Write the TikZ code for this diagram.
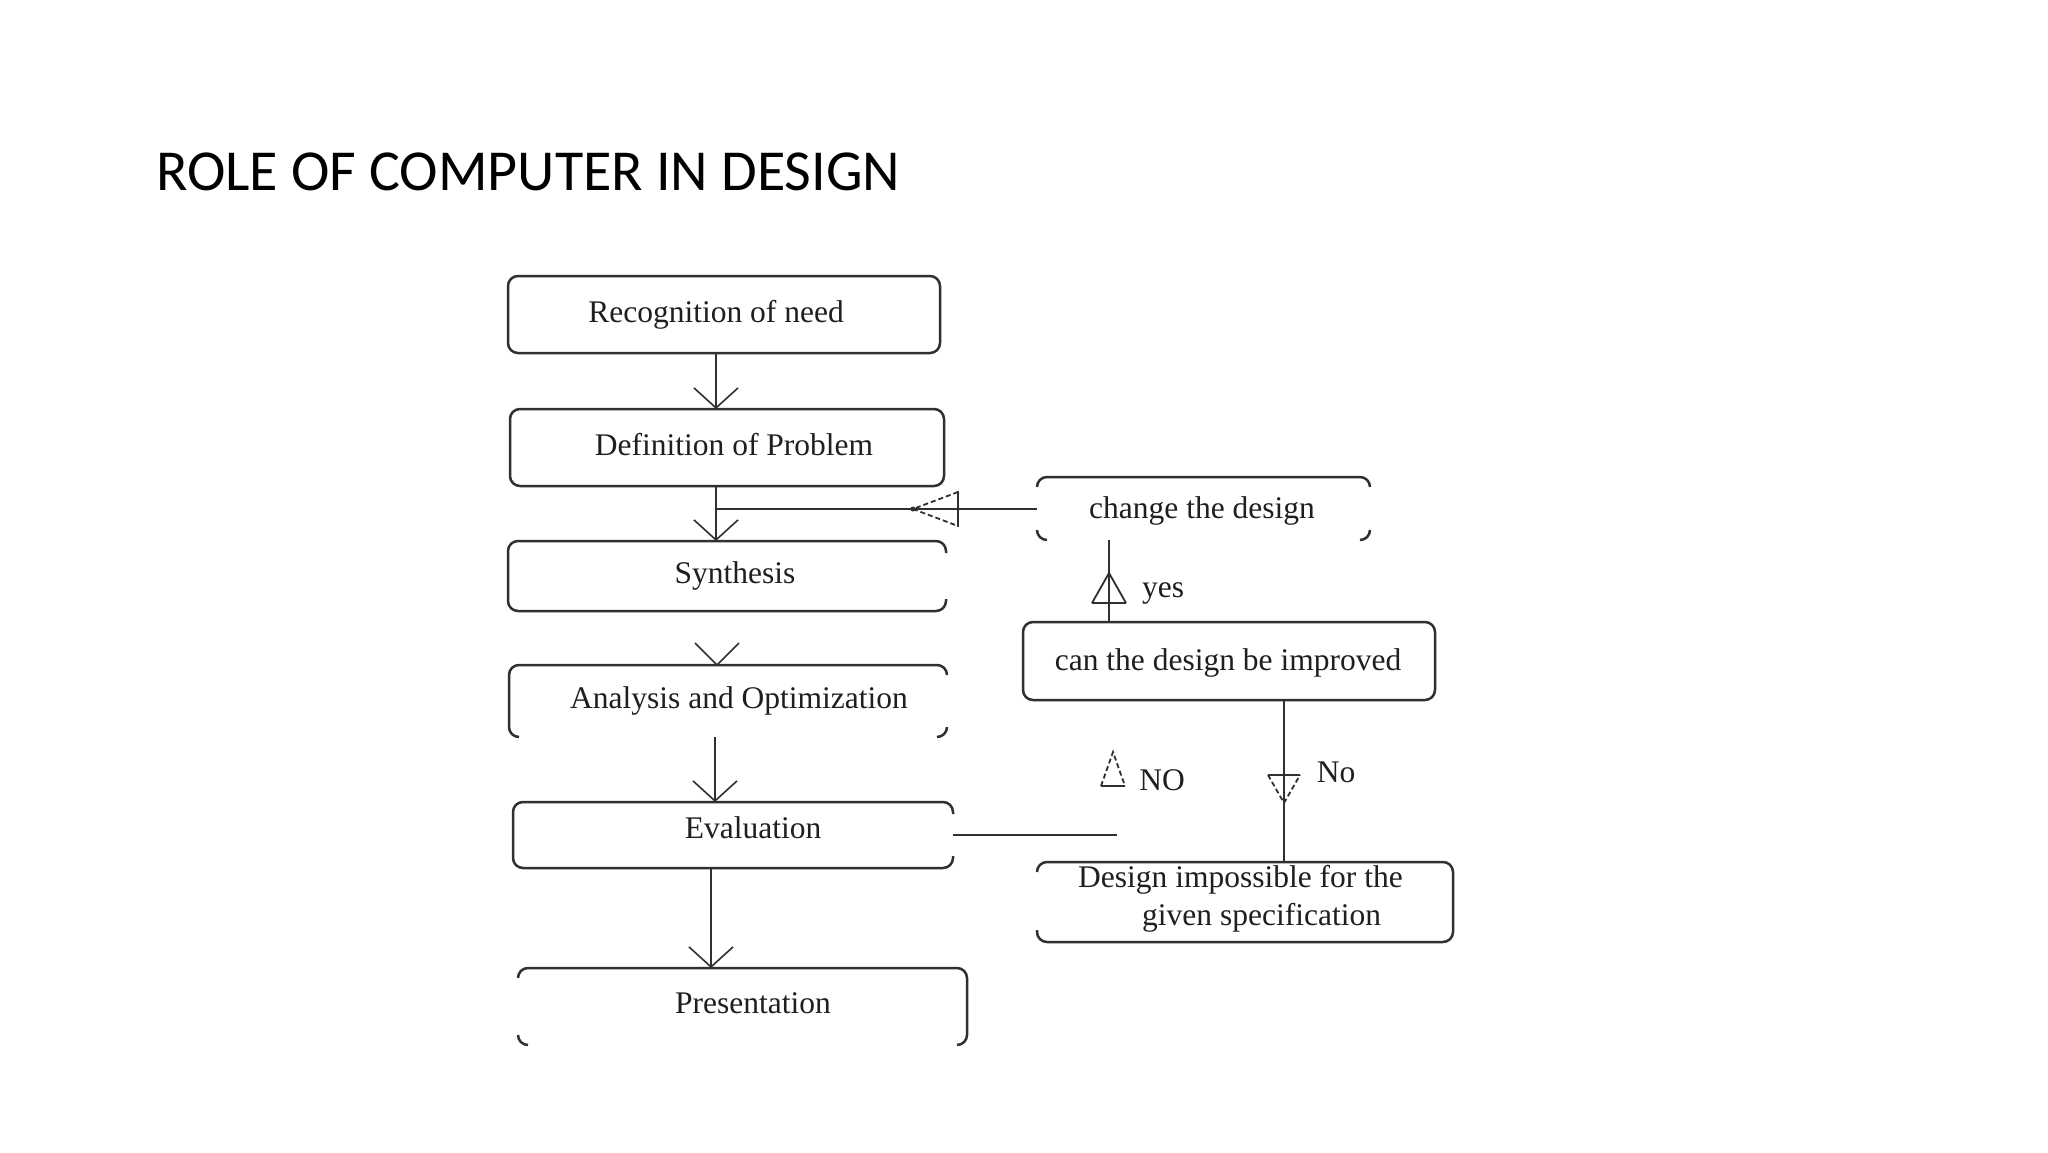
\documentclass[tikz,border=0pt]{standalone}
\usepackage{fontspec}
\setmainfont{Liberation Serif}
\newfontfamily\titlefont{Carlito}
\usetikzlibrary{arrows.meta,calc}
\definecolor{ink}{HTML}{303030}
\begin{document}
\begin{tikzpicture}[x=1pt,y=-1pt,
  outline/.style={draw=ink, line width=2.5pt, rounded corners=10pt},
  boxshape/.style={rectangle, inner sep=0pt, outer sep=0pt},
  fullbox/.style={boxshape, draw=ink, line width=2.5pt, rounded corners=10pt},
  txt/.style={font=\fontsize{31.5}{38}\selectfont, text=black!88, inner sep=0pt, anchor=base},
  conn/.style={draw=ink, line width=2pt},
  vhead/.style={-{Straight Barb[length=20pt,width=44pt,line width=1.6pt]}},
  trid/.style={draw=ink, line width=1.8pt, dash pattern=on 5pt off 3pt},
  tris/.style={draw=ink, line width=1.8pt}]
\fill[white] (0,0) rectangle (2048,1152);
\useasboundingbox (0,0) rectangle (2048,1152);

% title
\node[font=\titlefont\fontsize{58}{70}\selectfont, anchor=base west, inner sep=0pt] (title) at (156,190) {ROLE OF COMPUTER IN DESIGN};

% box shapes
\node[fullbox, minimum width=432pt, minimum height=77pt] (rec) at (724,314.5) {};
\node[fullbox, minimum width=434pt, minimum height=77pt] (def) at (727,447.5) {};
\node[boxshape, minimum width=438pt, minimum height=70pt] (syn) at (727,576) {};
\node[boxshape, minimum width=438pt, minimum height=72pt] (ana) at (728,701) {};
\node[boxshape, minimum width=440pt, minimum height=66pt] (eva) at (733,835) {};
\node[boxshape, minimum width=449pt, minimum height=77pt] (pre) at (742.5,1006.5) {};
\node[boxshape, minimum width=333pt, minimum height=63pt] (chg) at (1203.5,508.5) {};
\node[fullbox, minimum width=412pt, minimum height=78pt] (can) at (1229,661) {};
\node[boxshape, minimum width=416pt, minimum height=80pt] (imp) at (1245,902) {};

% partial outlines
\draw[outline] ($(syn.north east)+(0,12)$) -- (syn.north east) -- (syn.north west) -- (syn.south west) -- (syn.south east) -- ($(syn.south east)+(0,-12)$);
\draw[outline] ($(ana.north east)+(0,10)$) -- (ana.north east) -- (ana.north west) -- (ana.south west) -- ($(ana.south west)+(10,0)$);
\draw[outline] ($(ana.south east)+(0,-10)$) -- (ana.south east) -- ($(ana.south east)+(-10,0)$);
\draw[outline] ($(eva.north east)+(0,12)$) -- (eva.north east) -- (eva.north west) -- (eva.south west) -- (eva.south east) -- ($(eva.south east)+(0,-12)$);
\draw[outline] ($(pre.north west)+(0,10)$) -- (pre.north west) -- (pre.north east) -- (pre.south east) -- ($(pre.south east)+(-10,0)$);
\draw[outline] ($(pre.south west)+(0,-10)$) -- (pre.south west) -- ($(pre.south west)+(10,0)$);
\draw[outline] ($(chg.north west)+(0,10)$) -- (chg.north west) -- (chg.north east) -- ($(chg.north east)+(0,10)$);
\draw[outline] ($(chg.south west)+(0,-10)$) -- (chg.south west) -- ($(chg.south west)+(10,0)$);
\draw[outline] ($(chg.south east)+(0,-10)$) -- (chg.south east) -- ($(chg.south east)+(-10,0)$);
\draw[outline] ($(imp.north west)+(0,10)$) -- (imp.north west) -- (imp.north east) -- (imp.south east) -- (imp.south west) -- ($(imp.south west)+(0,-12)$);

% texts
\node[txt] (recT) at (716,322) {Recognition of need};
\node[txt] (defT) at (734,455) {Definition of Problem};
\node[txt] (synT) at (735,583) {Synthesis};
\node[txt] (anaT) at (739,708) {Analysis and Optimization};
\node[txt] (evaT) at (753,838) {Evaluation};
\node[txt] (preT) at (753,1013) {Presentation};
\node[txt] (chgT) at (1202,518) {change the design};
\node[txt] (canT) at (1228,670) {can the design be improved};
\node[txt, anchor=base west, align=left] (impT) at (1078,925) {Design impossible for the\\\hspace*{64pt}given specification};
\node[txt] (yesT) at (1163,597) {yes};
\node[txt] (NOT) at (1162,790) {NO};
\node[txt] (NoT) at (1336,782) {No};

% connector x positions
\coordinate (xa) at (716,0);
\coordinate (xb) at (717,0);
\coordinate (xc) at (715,0);
\coordinate (xd) at (711,0);
\coordinate (xy) at (1109,0);
\coordinate (xn) at (1284,0);
\coordinate (noEnd) at (1117,835);

% main chain
\draw[conn,vhead] (rec.south -| xa) -- (def.north -| xa);
\draw[conn,vhead] (def.south -| xa) -- (syn.north -| xa);
\coordinate (saTip) at (ana.north -| xb);
\draw[draw=ink, line width=1.6pt] ($(saTip)+(-22,-22)$) -- (saTip) -- ($(saTip)+(22,-22)$);
\draw[conn,vhead] (ana.south -| xc) -- (eva.north -| xc);
\draw[conn,vhead] (eva.south -| xd) -- (pre.north -| xd);

% feedback from change the design
\draw[conn] (chg.west) -- (chg.west -| xa);
\coordinate (fbTip) at (913,509);
\draw[trid] ($(fbTip)+(45,-17)$) -- (fbTip) -- ($(fbTip)+(45,17)$);
\draw[tris] ($(fbTip)+(45,-18)$) -- ($(fbTip)+(45,18)$);
\fill[ink] (fbTip) circle (2.5pt);

% yes
\draw[conn] (can.north -| xy) -- (chg.south -| xy);
\coordinate (yesTip) at (1109,573);
\draw[tris] ($(yesTip)+(-17,30)$) -- (yesTip) -- ($(yesTip)+(17,30)$);
\draw[tris] ($(yesTip)+(-17,30)$) -- ($(yesTip)+(17,30)$);

% No (down)
\draw[conn] (can.south -| xn) -- (imp.north -| xn);
\coordinate (noTip) at (1284,803);
\draw[trid] ($(noTip)+(-16,-28)$) -- (noTip) -- ($(noTip)+(16,-28)$);
\draw[tris] ($(noTip)+(-16,-28)$) -- ($(noTip)+(16,-28)$);

% NO from evaluation
\draw[conn] (eva.east) -- (noEnd);
\coordinate (NOTip) at (1113,752);
\draw[trid] ($(NOTip)+(-12,34)$) -- (NOTip) -- ($(NOTip)+(12,34)$);
\draw[tris] ($(NOTip)+(-12,34)$) -- ($(NOTip)+(12,34)$);
\end{tikzpicture}
\end{document}
